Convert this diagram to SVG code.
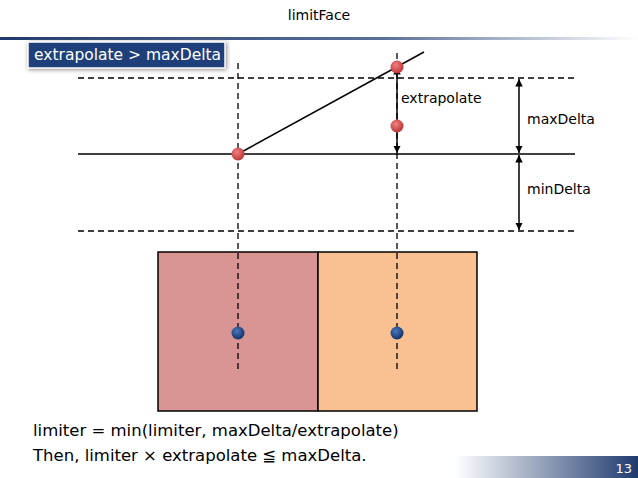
<svg xmlns="http://www.w3.org/2000/svg" width="638" height="478" viewBox="0 0 638 478">
<defs>
<linearGradient id="hg" x1="0" x2="1"><stop offset="0" stop-color="#1f3a6e"/><stop offset="0.6" stop-color="#5a6f96"/><stop offset="1" stop-color="#fff"/></linearGradient>
<linearGradient id="fg" x1="0" x2="1"><stop offset="0" stop-color="#fff"/><stop offset="1" stop-color="#1f3a6e"/></linearGradient>
<radialGradient id="rb" cx="0.4" cy="0.35" r="0.7"><stop offset="0" stop-color="#f08080"/><stop offset="1" stop-color="#b83030"/></radialGradient>
<radialGradient id="bb" cx="0.4" cy="0.35" r="0.7"><stop offset="0" stop-color="#4a78c0"/><stop offset="1" stop-color="#102c60"/></radialGradient>
<marker id="ah" viewBox="0 0 10 10" refX="10" refY="5" markerWidth="5" markerHeight="5" orient="auto-start-reverse"><path d="M0,0L10,5L0,10z" fill="#000"/></marker>
</defs>
<style>
text{font-family:"DejaVu Sans","Noto Sans",sans-serif;font-size:14px;fill:#000}
.d{stroke:#000;stroke-width:1.3;stroke-dasharray:6,4;fill:none}
.s{stroke:#000;stroke-width:1.5;fill:none}
.b{font-size:16.5px}
</style>
<rect width="638" height="478" fill="#fff"/>
<text x="319" y="20" text-anchor="middle" font-size="15">limitFace</text>
<rect x="0" y="37" width="638" height="3" fill="url(#hg)"/>
<rect x="455" y="456" width="183" height="22" fill="url(#fg)"/>
<text x="632" y="473" text-anchor="end" style="fill:#fff;font-size:13px">13</text>
<g id="title-box"><rect x="28" y="42" width="197" height="26" fill="#1f3f7a" stroke="#fff" stroke-width="1.5" filter="drop-shadow(1px 1px 2px #888)"/><text x="34" y="60" style="fill:#fff;font-size:15.5px">extrapolate &gt; maxDelta</text></g>
<g id="rects">
<rect x="158" y="252" width="160" height="159" fill="#d99594" stroke="#000" stroke-width="1.5"/>
<rect x="318" y="252" width="159" height="159" fill="#f9c092" stroke="#000" stroke-width="1.5"/>
</g>
<g id="connectors">
<line class="d" x1="78" y1="78" x2="575" y2="78"/>
<line class="d" x1="78" y1="231" x2="575" y2="231"/>
<line class="s" x1="78" y1="154" x2="575" y2="154"/>
<line class="d" x1="238" y1="63" x2="238" y2="370"/>
<line class="d" x1="397" y1="53" x2="397" y2="370"/>
<line class="s" x1="238" y1="154" x2="424" y2="52"/>
<line class="s" x1="397" y1="67" x2="397" y2="153" marker-start="url(#ah)" marker-end="url(#ah)"/>
<line class="s" x1="519" y1="79" x2="519" y2="153" marker-start="url(#ah)" marker-end="url(#ah)"/>
<line class="s" x1="519" y1="155" x2="519" y2="230" marker-start="url(#ah)" marker-end="url(#ah)"/>
</g>
<g id="points">
<circle cx="238" cy="154" r="6.5" fill="url(#rb)"/>
<circle cx="397" cy="67" r="6.5" fill="url(#rb)"/>
<circle cx="397" cy="126" r="6.5" fill="url(#rb)"/>
<circle cx="238" cy="333" r="6.5" fill="url(#bb)"/>
<circle cx="397" cy="333" r="6.5" fill="url(#bb)"/>
</g>
<g id="labels">
<text x="401" y="103">extrapolate</text>
<text x="527" y="124">maxDelta</text>
<text x="527" y="194">minDelta</text>
<text class="b" x="33" y="436">limiter = min(limiter, maxDelta/extrapolate)</text>
<text class="b" x="33" y="461">Then, limiter × extrapolate ≦ maxDelta.</text>
</g>
</svg>
